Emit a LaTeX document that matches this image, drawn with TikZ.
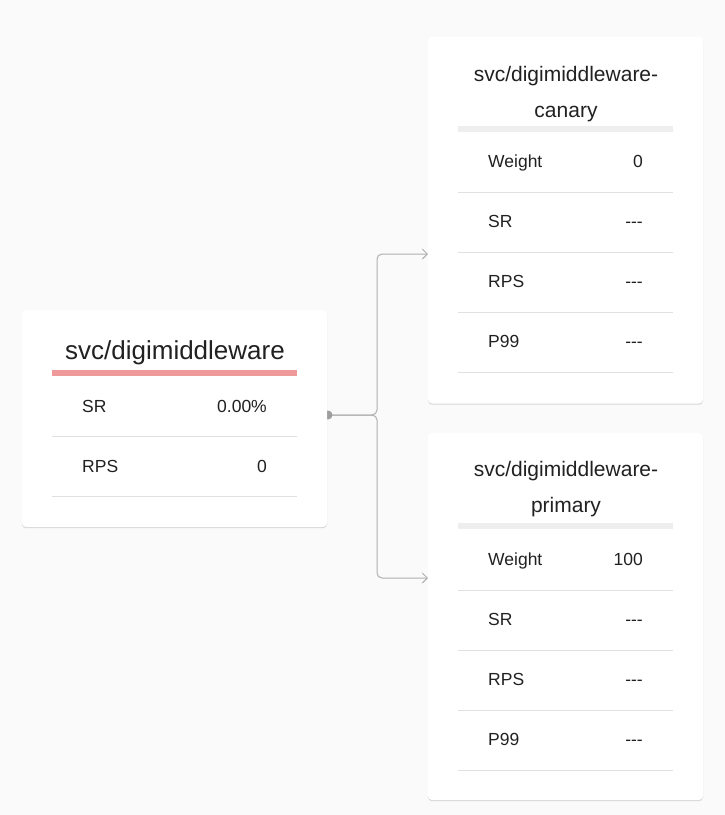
\documentclass[tikz,border=0pt]{standalone}
\usepackage{fontspec}
\setmainfont{Liberation Sans}
\usetikzlibrary{arrows.meta,shadows}
\definecolor{pagegray}{RGB}{250,250,250}
\definecolor{inkgray}{RGB}{33,33,33}
\definecolor{rulegray}{RGB}{224,224,224}
\definecolor{bargray}{RGB}{238,238,238}
\definecolor{alertred}{RGB}{239,154,154}
\definecolor{linkgray}{RGB}{176,176,176}
\definecolor{portgray}{RGB}{158,158,158}

\tikzset{
  card/.style={fill=white, rounded corners=4pt, inner sep=0pt,
    drop shadow={shadow xshift=0pt, shadow yshift=-1.2pt, fill=black, opacity=0.14}},
  cardtitle/.style={anchor=base, inner sep=0pt, text=inkgray, font=\fontsize{21}{25}\selectfont},
  rowlabel/.style={anchor=base west, inner sep=0pt, text=inkgray, font=\fontsize{17.5}{21}\selectfont},
  rowvalue/.style={anchor=base east, inner sep=0pt, text=inkgray, font=\fontsize{17.5}{21}\selectfont},
  rowrule/.style={rulegray, line width=1pt},
  link/.style={linkgray, line width=1pt, rounded corners=5pt}
}

\begin{document}
\begin{tikzpicture}[x=1pt, y=-1pt]
    % Page
    \fill[pagegray] (0,0) rectangle (725,815);
    \useasboundingbox (0,0) rectangle (725,815);

    % Connectors (drawn first, the cards sit on top)
    \coordinate (srcport) at (328,415);
    \coordinate (fork) at (377,415);
    \coordinate (canaryport) at (428,254);
    \coordinate (primaryport) at (428,578);
    \draw[link, -{Straight Barb[length=5pt,width=10pt]}] (srcport) -- (fork) |- (canaryport);
    \draw[link, -{Straight Barb[length=5pt,width=10pt]}] (srcport) -- (fork) |- (primaryport);
    \fill[portgray] (srcport) circle (4.5);

    % Source service
    \node[card, minimum width=305, minimum height=217] (src) at (174.5,418.5) {};
    \node[cardtitle, font=\fontsize{26}{30}\selectfont] (srctitle) at (175,359) {svc/digimiddleware};
    \draw[alertred, line width=5.5] (52,372.8) -- (297,372.8);
    \node[rowlabel] (srcsr) at (82,412) {SR};
    \node[rowvalue] (srcsrval) at (267,412) {0.00\%};
    \draw[rowrule] (52,436) -- (297,436);
    \node[rowlabel] (srcrps) at (82,472) {RPS};
    \node[rowvalue] (srcrpsval) at (267,472) {0};
    \draw[rowrule] (52,496) -- (297,496);

    % Canary leaf
    \node[card, minimum width=275, minimum height=367] (canary) at (565.5,220) {};
    \node[cardtitle] (canarytitle) at (566,81) {svc/digimiddleware-};
    \node[cardtitle] (canarytitle2) at (566,117) {canary};
    \draw[bargray, line width=6] (458,128.7) -- (673,128.7);
    \node[rowlabel] (canaryweight) at (488,167) {Weight};
    \node[rowvalue] (canaryweightval) at (643,167) {0};
    \draw[rowrule] (458,192) -- (673,192);
    \node[rowlabel] (canarysr) at (488,227) {SR};
    \node[rowvalue] (canarysrval) at (643,227) {-{}-{}-};
    \draw[rowrule] (458,252) -- (673,252);
    \node[rowlabel] (canaryrps) at (488,287) {RPS};
    \node[rowvalue] (canaryrpsval) at (643,287) {-{}-{}-};
    \draw[rowrule] (458,312) -- (673,312);
    \node[rowlabel] (canaryp99) at (488,347) {P99};
    \node[rowvalue] (canaryp99val) at (643,347) {-{}-{}-};
    \draw[rowrule] (458,372) -- (673,372);

    % Primary leaf
    \node[card, minimum width=275, minimum height=367] (primary) at (565.5,616.5) {};
    \node[cardtitle] (primarytitle) at (566,476.5) {svc/digimiddleware-};
    \node[cardtitle] (primarytitle2) at (566,512.5) {primary};
    \draw[bargray, line width=6] (458,526.3) -- (673,526.3);
    \node[rowlabel] (primaryweight) at (488,565) {Weight};
    \node[rowvalue] (primaryweightval) at (643,565) {100};
    \draw[rowrule] (458,590) -- (673,590);
    \node[rowlabel] (primarysr) at (488,625) {SR};
    \node[rowvalue] (primarysrval) at (643,625) {-{}-{}-};
    \draw[rowrule] (458,650) -- (673,650);
    \node[rowlabel] (primaryrps) at (488,685) {RPS};
    \node[rowvalue] (primaryrpsval) at (643,685) {-{}-{}-};
    \draw[rowrule] (458,710) -- (673,710);
    \node[rowlabel] (primaryp99) at (488,745) {P99};
    \node[rowvalue] (primaryp99val) at (643,745) {-{}-{}-};
    \draw[rowrule] (458,770) -- (673,770);
\end{tikzpicture}
\end{document}
